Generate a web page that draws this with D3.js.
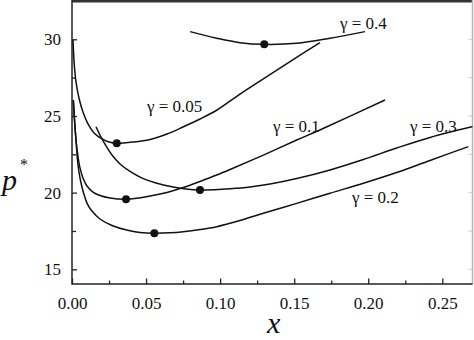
<!DOCTYPE html>
<html>
<head>
<meta charset="utf-8">
<script src="https://cdn.jsdelivr.net/npm/d3@7"></script>
<style>
  html, body { margin: 0; padding: 0; background: #fff; }
  svg { display: block; }
</style>
</head>
<body>
<svg id="chart" width="474" height="340"></svg>
<script>
// Curves p*(x) for several values of gamma, each with its minimum marked.
const gammaLabels = ["γ = 0.05", "γ = 0.1", "γ = 0.2", "γ = 0.3", "γ = 0.4"];

const xG005 = [0.0007, 0.0014, 0.0027, 0.0047, 0.0074, 0.0108, 0.0149, 0.0203, 0.0257, 0.0302, 0.0412, 0.0527, 0.0641, 0.0749, 0.0864, 0.0979, 0.1134, 0.1289, 0.1472, 0.1674];
const yG005 = [29.95, 28.52, 27.22, 26.17, 25.26, 24.48, 23.89, 23.50, 23.28, 23.22, 23.30, 23.47, 23.82, 24.28, 24.80, 25.39, 26.43, 27.41, 28.55, 29.78];

const xG01 = [0.0009, 0.0017, 0.0027, 0.0041, 0.0054, 0.0074, 0.0101, 0.0142, 0.0189, 0.0257, 0.0365, 0.0527, 0.0641, 0.0751, 0.0864, 0.0977, 0.1067, 0.1292, 0.1517, 0.1695, 0.2113];
const yG01 = [26.04, 24.74, 23.43, 22.32, 21.61, 20.95, 20.43, 20.04, 19.81, 19.65, 19.57, 19.78, 20.01, 20.33, 20.73, 21.15, 21.51, 22.45, 23.43, 24.18, 26.04];

const xG02 = [0.0009, 0.0017, 0.0027, 0.0037, 0.0047, 0.0061, 0.0078, 0.0101, 0.0135, 0.0189, 0.0270, 0.0369, 0.0459, 0.0556, 0.0662, 0.0751, 0.0864, 0.0977, 0.1134, 0.1292, 0.1517, 0.1742, 0.1967, 0.2192, 0.2417, 0.2676];
const yG02 = [26.04, 24.74, 23.43, 22.13, 21.35, 20.63, 19.98, 19.32, 18.80, 18.28, 17.86, 17.56, 17.40, 17.35, 17.38, 17.45, 17.59, 17.78, 18.18, 18.65, 19.30, 19.96, 20.61, 21.31, 22.10, 23.00];

const xG03 = [0.0162, 0.0182, 0.0203, 0.0230, 0.0270, 0.0324, 0.0392, 0.0473, 0.0567, 0.0675, 0.0770, 0.0864, 0.0965, 0.1067, 0.1202, 0.1337, 0.1517, 0.1742, 0.1967, 0.2192, 0.2417, 0.2707];
const yG03 = [24.30, 23.89, 23.50, 23.04, 22.45, 21.87, 21.38, 20.95, 20.63, 20.38, 20.24, 20.17, 20.19, 20.25, 20.37, 20.56, 20.92, 21.48, 22.16, 22.91, 23.60, 24.31];

const xG04 = [0.0797, 0.0977, 0.1134, 0.1298, 0.1517, 0.1742, 0.1978];
const yG04 = [30.50, 30.07, 29.78, 29.67, 29.74, 30.07, 30.50];

// Minimum points (x, p*) for each gamma
const minX = [0.0302, 0.0365, 0.0556, 0.0864, 0.1298];
const minY = [23.22, 19.57, 17.35, 20.17, 29.67];

const xTicks = [0, 0.05, 0.10, 0.15, 0.20, 0.25];
const xTickLabels = ["0.00", "0.05", "0.10", "0.15", "0.20", "0.25"];
const xMinorTicks = [0.025, 0.075, 0.125, 0.175, 0.225];
const yTicks = [15, 20, 25, 30];
const yTickLabels = ["15", "20", "25", "30"];
const yMinorTicks = [17.5, 22.5, 27.5];

const FONT = "'Liberation Serif', Tinos, 'Times New Roman', Times, 'DejaVu Serif', serif";

const svg = d3.select("#chart");
const plotLeft = 72, plotRight = 472.5, plotTop = 0, plotBottom = 284;

const x = d3.scaleLinear().domain([0, 0.25]).range([72, 442.3]);
const y = d3.scaleLinear().domain([15, 30]).range([269.3, 39.3]);

svg.append("defs").append("clipPath").attr("id", "plot")
  .append("rect").attr("x", plotLeft).attr("y", plotTop)
  .attr("width", plotRight - plotLeft).attr("height", plotBottom - plotTop);

// frame: dark top edge, light right edge
svg.append("rect").attr("x", plotLeft).attr("y", 0).attr("width", plotRight - plotLeft).attr("height", 2.5).attr("fill", "#333");
svg.append("line").attr("x1", plotRight).attr("x2", plotRight).attr("y1", 0).attr("y2", plotBottom)
  .attr("stroke", "#b5b5b5").attr("stroke-width", 1.5);
// faint inward ticks on the right edge
svg.append("g").selectAll("line").data(yTicks.concat(yMinorTicks)).join("line")
  .attr("x1", plotRight).attr("x2", plotRight - 4)
  .attr("y1", d => y(d)).attr("y2", d => y(d))
  .attr("stroke", "#c8c8c8").attr("stroke-width", 1);

// bottom axis
const xAxis = d3.axisBottom(x).tickValues(xTicks).tickFormat((d, i) => xTickLabels[i])
  .tickSizeInner(-5.5).tickSizeOuter(0).tickPadding(13);
const gx = svg.append("g").attr("transform", `translate(0,${plotBottom})`).call(xAxis)
  .attr("font-family", FONT).attr("font-size", 17);
gx.select(".domain").remove();
gx.selectAll(".tick line").attr("stroke", "#222").attr("stroke-width", 1.3);
gx.selectAll(".tick text").attr("fill", "#111");
const xMinor = d3.axisBottom(x).tickValues(xMinorTicks).tickFormat("").tickSizeInner(-3.5).tickSizeOuter(0);
const gxm = svg.append("g").attr("transform", `translate(0,${plotBottom})`).call(xMinor);
gxm.select(".domain").remove();
gxm.selectAll(".tick line").attr("stroke", "#222").attr("stroke-width", 1.3);

// left axis
const yAxis = d3.axisLeft(y).tickValues(yTicks).tickFormat((d, i) => yTickLabels[i])
  .tickSizeInner(-5).tickSizeOuter(0).tickPadding(11);
const gy = svg.append("g").attr("transform", `translate(${plotLeft},0)`).call(yAxis)
  .attr("font-family", FONT).attr("font-size", 17);
gy.select(".domain").remove();
gy.selectAll(".tick line").attr("stroke", "#222").attr("stroke-width", 1.3);
gy.selectAll(".tick text").attr("fill", "#111");
const yMinor = d3.axisLeft(y).tickValues(yMinorTicks).tickFormat("").tickSizeInner(-4).tickSizeOuter(0);
const gym = svg.append("g").attr("transform", `translate(${plotLeft},0)`).call(yMinor);
gym.select(".domain").remove();
gym.selectAll(".tick line").attr("stroke", "#222").attr("stroke-width", 1.3);

// axis lines
svg.append("line").attr("x1", plotLeft).attr("x2", plotLeft).attr("y1", 0).attr("y2", plotBottom + 0.7)
  .attr("stroke", "#222").attr("stroke-width", 1.5);
svg.append("line").attr("x1", plotLeft).attr("x2", plotRight).attr("y1", plotBottom).attr("y2", plotBottom)
  .attr("stroke", "#222").attr("stroke-width", 1.5);

// curves
const series = [[xG005, yG005], [xG01, yG01], [xG02, yG02], [xG03, yG03], [xG04, yG04]];
const line = d3.line().x(d => x(d[0])).y(d => y(d[1])).curve(d3.curveCatmullRom.alpha(0.5));
const plot = svg.append("g").attr("clip-path", "url(#plot)");
plot.selectAll("path.curve").data(series).join("path")
  .attr("class", "curve")
  .attr("d", s => line(s[0].map((v, i) => [v, s[1][i]])))
  .attr("fill", "none").attr("stroke", "#111").attr("stroke-width", 1.5);

plot.selectAll("circle").data(minX.map((v, i) => [v, minY[i]])).join("circle")
  .attr("cx", d => x(d[0])).attr("cy", d => y(d[1])).attr("r", 4).attr("fill", "#111");

// curve labels
const labelPos = [[147, 112], [273, 132], [352, 203], [410, 132], [340, 29]];
svg.append("g").attr("font-family", FONT).attr("font-size", 17).attr("fill", "#111")
  .selectAll("text").data(gammaLabels).join("text")
  .attr("x", (d, i) => labelPos[i][0]).attr("y", (d, i) => labelPos[i][1])
  .text(d => d);

// axis titles
const yt = svg.append("text").attr("x", 2).attr("y", 190).attr("font-family", FONT)
  .attr("font-size", 30).attr("font-style", "italic").attr("fill", "#111");
yt.append("tspan").text("p");
yt.append("tspan").attr("font-style", "normal").attr("font-size", 16).attr("dx", 3).attr("dy", -20).text("*");
svg.append("text").attr("x", 267).attr("y", 333).attr("font-family", FONT)
  .attr("font-size", 30).attr("font-style", "italic").attr("fill", "#111").text("x");
</script>
</body>
</html>
